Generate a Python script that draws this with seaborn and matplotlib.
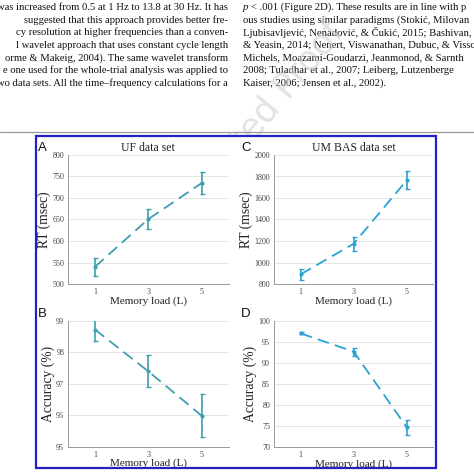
import numpy as np
import pandas as pd
import matplotlib
matplotlib.use("Agg")
import matplotlib.pyplot as plt
import seaborn as sns
from matplotlib.patches import Rectangle
from matplotlib.lines import Line2D

# --- donnees ---
loads = [1, 3, 5]
uf_rt = [540, 651, 735]
uf_rt_err = [21, 23, 26]
um_rt = [890, 1175, 1765]
um_rt_err = [52, 65, 82]
uf_acc = [98.72, 97.39, 95.98]
uf_acc_err = [0.35, 0.51, 0.68]
um_acc = [97.05, 92.7, 74.7]
um_acc_err = [0.25, 0.95, 1.8]

left_lines = [
    "was increased from 0.5 at 1 Hz to 13.8 at 30 Hz. It has",
    "suggested that this approach provides better fre-",
    "cy resolution at higher frequencies than a conven-",
    "l wavelet approach that uses constant cycle length",
    "orme & Makeig, 2004). The same wavelet transform",
    "e one used for the whole-trial analysis was applied to",
    "wo data sets. All the time\u2013frequency calculations for a",
]
right_lines = [
    "< .001 (Figure 2D). These results are in line with p",
    "ous studies using similar paradigms (Stoki\u0107, Milovan",
    "Ljubisavljevi\u0107, Nenadovi\u0107, & \u010cuki\u0107, 2015; Bashivan, Bide",
    "& Yeasin, 2014; Nenert, Viswanathan, Dubuc, & Visscher,",
    "Michels, Moazami-Goudarzi, Jeanmonod, & Sarnth",
    "2008; Tuladhar et al., 2007; Leiberg, Lutzenberge",
    "Kaiser, 2006; Jensen et al., 2002).",
]

sns.set_style("white")
plt.rcParams['font.family'] = ['Liberation Serif', 'DejaVu Serif']

W = H = 474
fig = plt.figure(figsize=(4.74, 4.74), dpi=100)


def fx(x):
    return x / W


def fy(y):
    return 1 - y / H


# texte de la page
txt_size = 7.7
for i, line in enumerate(left_lines):
    fig.text(fx(228), fy(7 + i * 12.7), line, ha='right', va='center',
             fontsize=txt_size, color='#111111', zorder=1)
for i, line in enumerate(right_lines):
    x_start = 251 if i == 0 else 243
    fig.text(fx(x_start), fy(7 + i * 12.7), line, ha='left', va='center',
             fontsize=txt_size, color='#111111', zorder=1)
fig.text(fx(243), fy(7), "p", ha='left', va='center', fontsize=txt_size,
         style='italic', color='#111111', zorder=1)

# filigrane
fig.text(fx(345), fy(32), "Uncorrected Proof", ha='right', va='baseline',
         rotation=50, rotation_mode='anchor', fontsize=25,
         family='DejaVu Sans', color='#d0d0d0', alpha=0.6, zorder=1.5)

fig.add_artist(Line2D([0, 1], [fy(132), fy(132)], color='#9a9a9a', lw=0.9,
                      transform=fig.transFigure, zorder=2))
fig.add_artist(Rectangle((fx(35.5), fy(468)), fx(436) - fx(35.5), fy(136.5) - fy(468),
                         transform=fig.transFigure, facecolor='white',
                         edgecolor='#2222c4', lw=1.6, zorder=2))

teal = '#3d9fae'
cyan = '#2aa3d3'

panels = [
    # (x0, x1, y0, y1, y, err, ylim, yticks, ylabel, color, title, lettre, pos lettre)
    (68.3, 228.5, 155, 284, uf_rt, uf_rt_err, (500, 800), np.arange(500, 801, 50),
     "RT (msec)", teal, "UF data set", "A", (38, 142)),
    (274.2, 433.2, 155, 284, um_rt, um_rt_err, (800, 2000), np.arange(800, 2001, 200),
     "RT (msec)", cyan, "UM BAS data set", "C", (241, 142)),
    (68.3, 228.5, 320.7, 446.7, uf_acc, uf_acc_err, (95, 99), np.arange(95, 100, 1),
     "Accuracy (%)", teal, None, "B", (38, 308)),
    (274.2, 433.2, 321, 447, um_acc, um_acc_err, (70, 100), np.arange(70, 101, 5),
     "Accuracy (%)", cyan, None, "D", (241, 308)),
]

for x0, x1, y0, y1, vals, errs, ylim, yticks, ylabel, col, title, letter, lpos in panels:
    ax = fig.add_axes([fx(x0), fy(y1), fx(x1) - fx(x0), fy(y0) - fy(y1)])
    ax.set_zorder(5)
    df = pd.DataFrame({"load": loads, "val": vals})
    sns.lineplot(data=df, x="load", y="val", ax=ax, color=col, lw=1.3,
                 marker='o', markersize=3, markeredgewidth=0)
    ax.lines[0].set_dashes((6.5, 3.5))
    ax.errorbar(loads, vals, yerr=errs, fmt='none', ecolor=col, elinewidth=1.2,
                capsize=1.8, capthick=1.0)
    ax.set_xlim(0, 6)
    ax.set_ylim(*ylim)
    ax.set_xticks(loads)
    ax.set_yticks(yticks)
    ax.yaxis.grid(True, color='#e4e4e4', lw=0.7)
    ax.xaxis.grid(False)
    for s in ['top', 'right']:
        ax.spines[s].set_visible(False)
    for s in ['left', 'bottom']:
        ax.spines[s].set_color('#9a9a9a')
        ax.spines[s].set_linewidth(0.7)
    ax.tick_params(axis='both', labelsize=5.8, colors='#9a9a9a', labelcolor='#444444',
                   length=2, width=0.6, direction='in', pad=3)
    ax.set_xlabel("Memory load (L)", fontsize=8, color='#222222', labelpad=0)
    ax.set_ylabel(ylabel, fontsize=9.8, color='#222222', labelpad=1)
    if title:
        ax.set_title(title, fontsize=8.5, color='#222222', pad=3)
    fig.text(fx(lpos[0]), fy(lpos[1]), letter, ha='left', va='top', fontsize=9.5,
             family='Liberation Sans', color='#111111', zorder=6)

fig.savefig("out.png", dpi=100, facecolor='white')
